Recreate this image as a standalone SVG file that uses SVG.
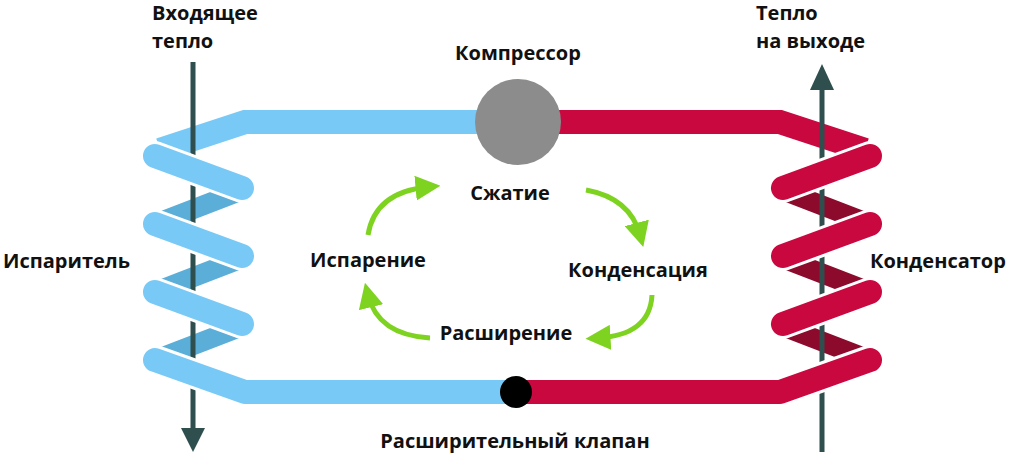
<svg xmlns="http://www.w3.org/2000/svg" width="1024" height="456" viewBox="0 0 1024 456">
<style>
text{font-family:"Open Sans","Liberation Sans",sans-serif;font-weight:bold;font-size:20px;fill:#111}
.b{stroke:#79c9f6;stroke-width:24;stroke-linecap:round;fill:none}
.bb{stroke:#5aaed8;stroke-width:20;fill:none}
.r{stroke:#c8083f;stroke-width:24;stroke-linecap:round;fill:none}
.rb{stroke:#8c0a2c;stroke-width:20;fill:none}
.g{stroke:#7ed321;stroke-width:5;fill:none}
.ax{stroke:#2f4f4f;stroke-width:5}
.w{stroke:#fff;stroke-width:30;stroke-linecap:round;fill:none}
.p{stroke-width:24;fill:none;stroke-linejoin:miter}
</style>
<defs>
<marker id="ga" viewBox="0 0 10 10" refX="5" refY="5" markerWidth="5" markerHeight="5" orient="auto" markerUnits="strokeWidth"><path d="M0,0L10,5L0,10z" fill="#7ed321"/></marker>
</defs>
<g id="connectors">
<g id="evaporator-back">
<polyline class="p" points="160,150 245,122 490,122" stroke="#79c9f6"/>
<line class="bb" x1="243" y1="190" x2="160" y2="222"/>
<line class="bb" x1="243" y1="258" x2="160" y2="290"/>
<line class="bb" x1="243" y1="326" x2="160" y2="358"/>
</g>
<g id="condenser-back">
<polyline class="p" points="865,150 780,122 540,122" stroke="#c8083f"/>
<line class="rb" x1="782" y1="190" x2="865" y2="222"/>
<line class="rb" x1="782" y1="258" x2="865" y2="290"/>
<line class="rb" x1="782" y1="326" x2="865" y2="358"/>
</g>
<line class="ax" x1="193" y1="62" x2="193" y2="430"/>
<path d="M181,428H205L193,452z" fill="#2f4f4f"/>
<line class="ax" x1="822" y1="88" x2="822" y2="452"/>
<path d="M810,90H834L822,64z" fill="#2f4f4f"/>
<g id="evaporator-front">
<line class="w" x1="155" y1="156" x2="242" y2="188"/>
<line class="b" x1="155" y1="156" x2="242" y2="188"/>
<line class="w" x1="155" y1="224" x2="242" y2="256"/>
<line class="b" x1="155" y1="224" x2="242" y2="256"/>
<line class="w" x1="155" y1="292" x2="242" y2="324"/>
<line class="b" x1="155" y1="292" x2="242" y2="324"/>
<polyline class="w" points="155,360 245,392 260,392"/>
<polyline class="b" points="155,360 245,392 505,392" style="stroke-linejoin:round"/>
</g>
<g id="condenser-front">
<line class="w" x1="870" y1="156" x2="783" y2="188"/>
<line class="r" x1="870" y1="156" x2="783" y2="188"/>
<line class="w" x1="870" y1="224" x2="783" y2="256"/>
<line class="r" x1="870" y1="224" x2="783" y2="256"/>
<line class="w" x1="870" y1="292" x2="783" y2="324"/>
<line class="r" x1="870" y1="292" x2="783" y2="324"/>
<polyline class="w" points="870,360 780,392 765,392"/>
<polyline class="r" points="870,360 780,392 520,392" style="stroke-linejoin:round"/>
</g>
<path class="g" d="M368,235 Q375,192 428,187" marker-end="url(#ga)"/>
<path class="g" d="M586,190 Q630,198 640,235" marker-end="url(#ga)"/>
<path class="g" d="M652,295 Q650,335 598,338" marker-end="url(#ga)"/>
<path class="g" d="M430,338 Q378,335 368,295" marker-end="url(#ga)"/>
</g>
<g id="compressor"><circle cx="518" cy="122" r="43" fill="#8c8c8c"/><text x="518" y="60" text-anchor="middle">Компрессор</text></g>
<g id="valve"><circle cx="516" cy="392" r="16" fill="#000"/><text x="515" y="448" text-anchor="middle">Расширительный клапан</text></g>
<g id="labels">
<text x="152" y="20">Входящее</text>
<text x="152" y="48">тепло</text>
<text x="756" y="20">Тепло</text>
<text x="756" y="48">на выходе</text>
<text x="3" y="268">Испаритель</text>
<text x="870" y="268">Конденсатор</text>
<text x="510" y="200" text-anchor="middle">Сжатие</text>
<text x="368" y="267" text-anchor="middle">Испарение</text>
<text x="638" y="277" text-anchor="middle">Конденсация</text>
<text x="506" y="340" text-anchor="middle">Расширение</text>
</g>
</svg>
